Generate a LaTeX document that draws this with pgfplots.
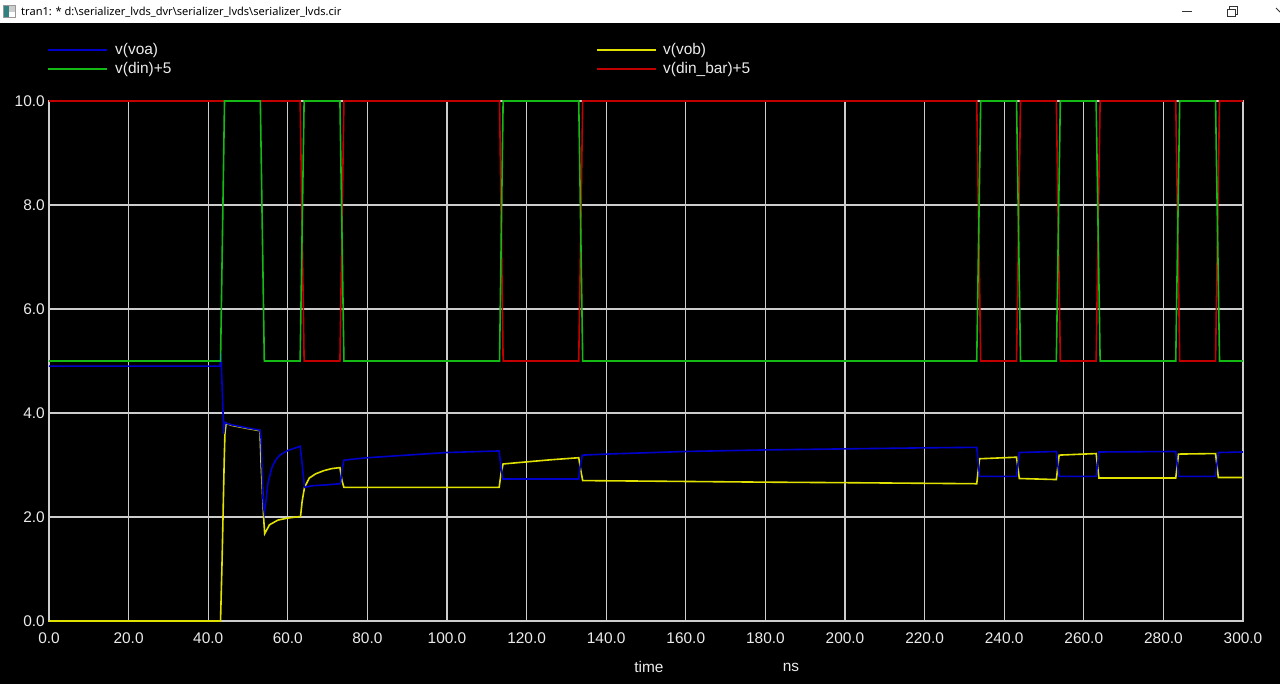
\documentclass[border=0pt]{standalone}
\usepackage{fontspec}
\setmainfont{Liberation Sans}
\newfontfamily\titlefont{Noto Sans}
\usepackage{pgfplots}
\pgfplotsset{compat=1.18}
\definecolor{cblue}{RGB}{0,0,205}
\definecolor{cyel}{RGB}{225,225,0}
\definecolor{cgreen}{RGB}{20,185,20}
\definecolor{cred}{RGB}{195,0,0}
\definecolor{cgrid}{RGB}{205,205,205}
\definecolor{ctext}{RGB}{235,235,235}

\pgfplotstableread{
t v
0 0
43.1 0
43.5 1.2
44.0 3.0
44.2 3.6
44.5 3.80
46 3.76
48 3.73
50 3.70
53.0 3.66
53.3 3.0
54.0 1.9
54.2 1.68
55.4 1.85
57.5 1.94
60 1.98
63.2 2.01
63.6 2.3
64.2 2.57
65.4 2.75
67 2.83
69 2.89
71 2.93
73.1 2.95
73.6 2.7
74.1 2.57
113.1 2.57
113.6 2.85
114.1 3.02
120 3.06
126 3.10
133.1 3.14
133.6 2.9
134.1 2.70
150 2.69
180 2.67
200 2.66
233.1 2.64
233.8 3.12
243.1 3.15
243.8 2.74
253.1 2.72
253.8 3.19
263.1 3.22
263.8 2.75
283.1 2.75
283.8 3.21
293.1 3.22
293.8 2.76
300 2.76
}\vob

\pgfplotstableread{
t v
0 4.90
43.0 4.90
43.2 5.15
43.6 4.3
43.9 3.6
44.2 3.82
44.6 3.80
46 3.77
48 3.74
50 3.71
53.0 3.67
53.3 3.5
53.8 2.3
54.1 2.08
54.5 2.3
55.0 2.65
56 2.95
57 3.10
58 3.19
60 3.28
62 3.33
63.1 3.36
63.5 3.1
64.2 2.57
66 2.60
70 2.62
73.2 2.64
73.6 2.9
74.1 3.09
76 3.11
80 3.14
90 3.19
100 3.24
113.1 3.27
113.5 3.0
114.0 2.73
133.1 2.73
133.5 3.0
134.0 3.19
140 3.21
160 3.26
180 3.29
200 3.31
220 3.33
233.1 3.34
233.8 2.78
243.1 2.78
243.8 3.24
253.1 3.26
253.8 2.78
263.1 2.78
263.8 3.25
283.1 3.26
283.8 2.78
293.1 2.78
293.8 3.24
300 3.25
}\voa

\pgfplotstableread{
t v
0 5
43.1 5
44.1 10
53.1 10
54.1 5
63.1 5
64.1 10
73.1 10
74.1 5
113.2 5
114.1 10
133.1 10
134.1 5
233.1 5
234.1 10
243.1 10
244.1 5
253.1 5
254.1 10
263.1 10
264.1 5
283.1 5
284.1 10
293.1 10
294.1 5
300 5
}\din

\pgfplotstableread{
t v
0 10
63.1 10
64.1 5
73.1 5
74.1 10
113.2 10
114.1 5
133.1 5
134.1 10
233.1 10
234.1 5
243.1 5
244.1 10
253.1 10
254.1 5
263.1 5
264.1 10
283.1 10
284.1 5
293.1 5
294.1 10
300 10
}\dinbar

\begin{document}
\begin{tikzpicture}
\useasboundingbox (0bp,0bp) rectangle (1280bp,684bp);
\fill[black] (0bp,0bp) rectangle (1280bp,661bp);
\fill[white] (0bp,661bp) rectangle (1280bp,684bp);
% window icon
\draw[gray!80, line width=0.8bp] (3.5bp,666.5bp) rectangle (15.5bp,678.5bp);
\fill[teal!60!gray] (4bp,667bp) rectangle (9bp,678bp);
\fill[gray!40] (9bp,672bp) rectangle (15bp,678bp);
\node[anchor=west, inner sep=0pt, font=\titlefont\fontsize{11.1}{13}\selectfont, text=black] at (21bp,671.5bp)
  {tran1: * d:\textbackslash serializer\_lvds\_dvr\textbackslash serializer\_lvds\textbackslash serializer\_lvds.cir};
% window controls
\draw[black!80, line width=0.8bp] (1182bp,672.3bp) -- (1192bp,672.3bp);
\draw[black!80, line width=0.8bp] (1227.5bp,667.5bp) rectangle (1235bp,675bp);
\draw[black!80, line width=0.8bp] (1229.5bp,675bp) -- (1229.5bp,677.3bp) -- (1237.3bp,677.3bp) -- (1237.3bp,669.5bp) -- (1235bp,669.5bp);
\draw[black!80, line width=0.8bp] (1276bp,676bp) -- (1280bp,672bp);

\begin{axis}[
  at={(49bp,63bp)}, anchor=south west,
  scale only axis, width=1194bp, height=520bp,
  xmin=0, xmax=300, ymin=0, ymax=10,
  xtick={0,20,...,300},
  xticklabels={0.0,20.0,40.0,60.0,80.0,100.0,120.0,140.0,160.0,180.0,200.0,220.0,240.0,260.0,280.0,300.0},
  ytick={0,2,4,6,8,10},
  yticklabels={0.0,2.0,4.0,6.0,8.0,10.0},
  grid=major,
  major grid style={cgrid, line width=1.2bp},
  axis line style={cgrid, line width=1.2bp},
  major tick length=0pt,
  ticklabel style={text=ctext, font=\fontsize{15.5}{17}\selectfont},
  yticklabel style={anchor=east, inner sep=0pt, xshift=-4bp},
  xticklabel style={anchor=north, inner sep=0pt, yshift=-11.5bp},
  xlabel={time},
  xlabel style={at={(rel axis cs:0.5025,-0.0885)}, anchor=center, inner sep=0pt, text=ctext, font=\fontsize{15.5}{17}\selectfont},
  clip=false,
]
\addplot[cyel, line width=1.6bp] table[x=t,y=v] {\vob};
\addplot[cblue, line width=1.6bp] table[x=t,y=v] {\voa};
\addplot[cred, line width=1.6bp] table[x=t,y=v] {\dinbar};
\addplot[cgreen, line width=1.6bp] table[x=t,y=v] {\din};
\node[anchor=center, inner sep=0pt, text=ctext, font=\fontsize{15.5}{17}\selectfont] at (rel axis cs:0.6214,-0.0885) {ns};
\end{axis}

% legend
\begin{scope}[font=\fontsize{15.5}{17}\selectfont]
\draw[cblue, line width=2bp] (48bp,633.5bp) -- (107bp,633.5bp);
\node[anchor=west, inner sep=0pt, text=ctext] at (115bp,633.3bp) {v(voa)};
\draw[cgreen, line width=2bp] (48bp,615bp) -- (107bp,615bp);
\node[anchor=west, inner sep=0pt, text=ctext] at (115bp,614.7bp) {v(din)+5};
\draw[cyel, line width=2bp] (597bp,633.5bp) -- (656bp,633.5bp);
\node[anchor=west, inner sep=0pt, text=ctext] at (663bp,633.3bp) {v(vob)};
\draw[cred, line width=2bp] (597bp,615bp) -- (656bp,615bp);
\node[anchor=west, inner sep=0pt, text=ctext] at (663bp,614.7bp) {v(din\_bar)+5};
\end{scope}
\end{tikzpicture}
\end{document}
